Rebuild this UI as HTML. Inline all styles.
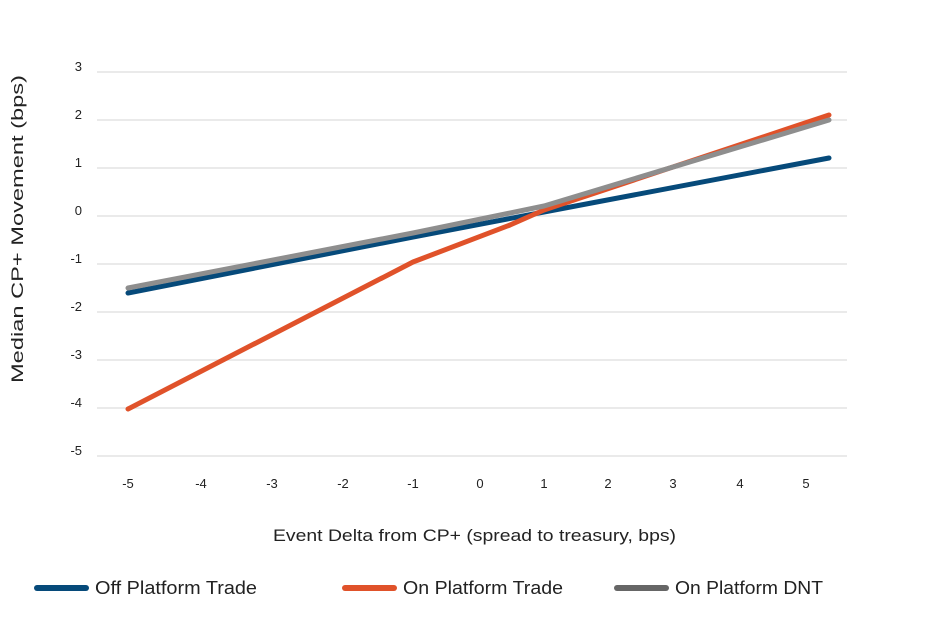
<!DOCTYPE html>
<html><head><meta charset="utf-8"><style>body{margin:0;background:#fff}svg{display:block}text{font-family:"Liberation Sans",sans-serif;fill:#222}</style></head><body>
<svg width="933" height="633" viewBox="0 0 933 633">
<g stroke="#e3e3e3" stroke-width="1.5">
<line x1="97" x2="847" y1="72" y2="72"/><line x1="97" x2="847" y1="120" y2="120"/><line x1="97" x2="847" y1="168" y2="168"/><line x1="97" x2="847" y1="216" y2="216"/><line x1="97" x2="847" y1="264" y2="264"/><line x1="97" x2="847" y1="312" y2="312"/><line x1="97" x2="847" y1="360" y2="360"/><line x1="97" x2="847" y1="408" y2="408"/><line x1="97" x2="847" y1="456" y2="456"/>
</g>
<g font-size="13" text-anchor="end">
<text x="82" y="71">3</text><text x="82" y="119">2</text><text x="82" y="167">1</text><text x="82" y="215">0</text><text x="82" y="263">-1</text><text x="82" y="311">-2</text><text x="82" y="359">-3</text><text x="82" y="407">-4</text><text x="82" y="455">-5</text>
</g>
<g font-size="13" text-anchor="middle">
<text x="128" y="488">-5</text><text x="201" y="488">-4</text><text x="272" y="488">-3</text><text x="343" y="488">-2</text><text x="413" y="488">-1</text><text x="480" y="488">0</text><text x="544" y="488">1</text><text x="608" y="488">2</text><text x="673" y="488">3</text><text x="740" y="488">4</text><text x="806" y="488">5</text>
</g>
<text x="273" y="541" font-size="17" textLength="403" lengthAdjust="spacingAndGlyphs">Event Delta from CP+ (spread to treasury, bps)</text>
<text transform="translate(23,383) rotate(-90)" font-size="17" textLength="308" lengthAdjust="spacingAndGlyphs">Median CP+ Movement (bps)</text>
<g fill="none" stroke-width="5" stroke-linecap="round" stroke-linejoin="round">
<polyline stroke="#064a7a" points="128,293 413,237 544,212 829,158"/>
<polyline stroke="#e0522a" points="128,409 413,262 510,225 544,210 829,115"/>
<polyline stroke="#8e8e8e" points="128,288 413,233 544,206 829,120"/>
</g>
<g stroke-width="6" stroke-linecap="round">
<line x1="37" x2="86" y1="588" y2="588" stroke="#064a7a"/>
<line x1="345" x2="394" y1="588" y2="588" stroke="#e0522a"/>
<line x1="617" x2="666" y1="588" y2="588" stroke="#666"/>
</g>
<g font-size="18"><text x="95" y="594" textLength="162" lengthAdjust="spacingAndGlyphs">Off Platform Trade</text><text x="403" y="594" textLength="160" lengthAdjust="spacingAndGlyphs">On Platform Trade</text><text x="675" y="594" textLength="148" lengthAdjust="spacingAndGlyphs">On Platform DNT</text></g>
</svg></body></html>
